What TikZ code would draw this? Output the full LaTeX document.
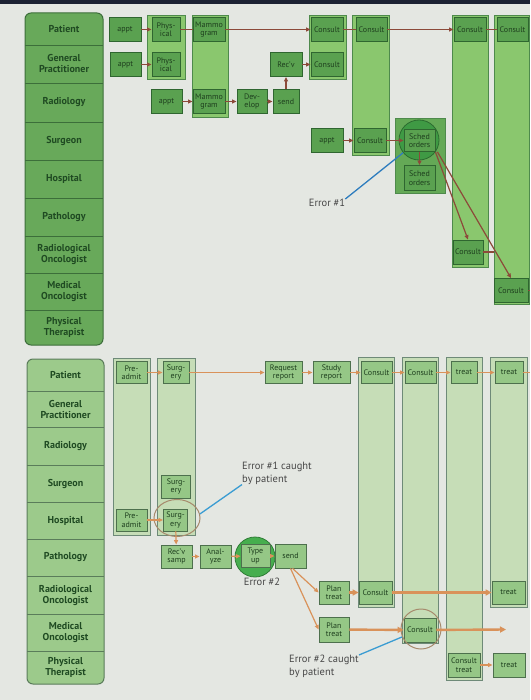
\documentclass[tikz,border=0pt]{standalone}
\usepackage{fontspec}
\setmainfont{PT Sans}
\usetikzlibrary{arrows.meta, shapes.geometric}

\definecolor{cPaper}{HTML}{E4E7E2}
\definecolor{cTopBar}{HTML}{1C2233}
\definecolor{cLaneFillA}{HTML}{68A95A}
\definecolor{cLaneEdgeA}{HTML}{3C6E3A}
\definecolor{cBoxFillA}{HTML}{5AA150}
\definecolor{cBoxEdgeA}{HTML}{2F6630}
\definecolor{cColFillA}{HTML}{8AC76E}
\definecolor{cColEdgeA}{HTML}{4E8A4C}
\definecolor{cRingA}{HTML}{3F9A44}
\definecolor{cRingEdgeA}{HTML}{2C6C30}
\definecolor{cArrowA}{HTML}{8C4A3A}
\definecolor{cLaneText}{HTML}{1F4A22}
\definecolor{cBoxText}{HTML}{1E3F1E}
\definecolor{cLaneFillB}{HTML}{9CCA8B}
\definecolor{cLaneEdgeB}{HTML}{5A7C5A}
\definecolor{cBoxFillB}{HTML}{95C786}
\definecolor{cBoxEdgeB}{HTML}{4D704D}
\definecolor{cColFillB}{HTML}{C6DDB7}
\definecolor{cColEdgeB}{HTML}{6E8A78}
\definecolor{cArrowB}{HTML}{D9925A}
\definecolor{cRingB}{HTML}{A68A6C}
\definecolor{cTypeFill}{HTML}{46AE4E}
\definecolor{cTypeEdge}{HTML}{2F7D36}
\definecolor{cBlueA}{HTML}{2E7DBE}
\definecolor{cBlueB}{HTML}{3A9CD2}
\definecolor{cErrText}{HTML}{474747}

\begin{document}
\begin{tikzpicture}[x=1pt, y=-1pt,
    lanecolA/.style={draw=cLaneEdgeA, fill=cLaneFillA, line width=1pt, rounded corners=6pt},
    lanecolB/.style={draw=cLaneEdgeB, fill=cLaneFillB, line width=1pt, rounded corners=6pt},
    lanesepA/.style={draw=cLaneEdgeA, line width=0.8pt},
    lanesepB/.style={draw=cLaneEdgeB, line width=0.8pt},
    lanelbl/.style={align=center, text=cLaneText, inner sep=0pt,
                    font=\fontsize{10}{11}\selectfont\bfseries},
    colA/.style={draw=cColEdgeA, fill=cColFillA, line width=0.8pt},
    colB/.style={draw=cColEdgeB, fill=cColFillB, line width=0.8pt},
    box/.style={rectangle, draw=cBoxEdgeA, fill=cBoxFillA, line width=0.8pt,
                inner sep=0pt, minimum width=31pt, minimum height=24pt,
                align=center, text=cBoxText, font=\fontsize{8}{8.5}\selectfont},
    boxB/.style={box, draw=cBoxEdgeB, fill=cBoxFillB},
    arrA/.style={-{Triangle[length=4.5pt,width=4pt]}, line width=1.2pt, draw=cArrowA},
    lineA/.style={line width=1.2pt, draw=cArrowA},
    arrB/.style={-{Triangle[length=4.5pt,width=4pt]}, line width=1.2pt, draw=cArrowB},
    thickB/.style={-{Triangle[length=6pt,width=6pt]}, line width=2.4pt, draw=cArrowB},
    errlbl/.style={text=cErrText, align=left, inner sep=0pt,
                   font=\fontsize{10.5}{12.5}\selectfont}
  ]
  \useasboundingbox (0,0) rectangle (530,700);
  \fill[cPaper] (0,0) rectangle (530,700);
  \fill[cTopBar] (0,0) rectangle (530,4);

  % ---------- upper chart ----------
  \draw[lanecolA] (25,13) rectangle (103,345);
  \foreach \y in {45,83,122,160,198,236,273,310}
    \draw[lanesepA] (25,\y) -- (103,\y);
  \foreach [count=\i] \lbl/\y in {Patient/29, {General\\Practitioner}/64,
      Radiology/102.5, Surgeon/141, Hospital/179, Pathology/217,
      {Radiological\\Oncologist}/254.5, {Medical\\Oncologist}/291.5,
      {Physical\\Therapist}/327.5}
    \node[lanelbl] (laneA\i) at (64,\y) {\lbl};

  \draw[colA] (147,15) rectangle (185,79);
  \draw[colA] (192,15) rectangle (228,117);
  \draw[colA] (309,15) rectangle (346,79);
  \draw[colA] (352,15) rectangle (389,155);
  \draw[colA, fill=cBoxFillA!80!cColFillA] (395,118) rectangle (445,193);
  \draw[colA] (452,15) rectangle (488,267);
  \draw[colA] (494,15) rectangle (529,304);
  \node[circle, draw=cRingEdgeA, fill=cRingA, line width=0.8pt,
        minimum size=40pt] (schedring) at (419,140) {};

  \node[box, minimum width=32pt] (appt1) at (125,29.5) {appt};
  \node[box] (appt2) at (125.5,64.5) {appt};
  \node[box, minimum width=28pt] (phys1) at (166,29.5) {Phys-\\ical};
  \node[box, minimum width=28pt] (phys2) at (166,64.5) {Phys-\\ical};
  \node[box, minimum width=32pt] (mammo1) at (209,29.5) {Mammo\\gram};
  \node[box, minimum width=32pt] (mammo2) at (209,101.5) {Mammo\\gram};
  \node[box] (appt3) at (166.5,101.5) {appt};
  \node[box, minimum width=30pt] (develop) at (252,101.5) {Dev-\\elop};
  \node[box, minimum width=26pt] (send1) at (286,101.5) {send};
  \node[box, minimum width=32pt] (recv1) at (286,64.5) {Rec'v};
  \node[box, minimum width=32pt] (cons1p) at (327,29.5) {Consult};
  \node[box, minimum width=32pt] (cons1g) at (327,64.5) {Consult};
  \node[box, minimum width=32pt] (appt4) at (327,140.5) {appt};
  \node[box] (cons2p) at (371.5,29.5) {Consult};
  \node[box, minimum width=32pt] (cons2s) at (370,140.5) {Consult};
  \node[box, minimum height=22pt] (sched1) at (419.5,140.5) {Sched\\orders};
  \node[box, minimum height=25pt] (sched2) at (419.5,178) {Sched\\orders};
  \node[box, minimum width=32pt] (cons3p) at (470,29.5) {Consult};
  \node[box, minimum width=30pt] (cons3r) at (468,252) {Consult};
  \node[box] (cons4p) at (512.5,29.5) {Consult};
  \node[box, minimum width=34pt] (cons4m) at (511,290.5) {Consult};
  \coordinate (outR) at (494,252);
  \coordinate (outM) at (530,290.5);

  \draw[arrA]  (appt1)  -- (phys1);
  \draw[arrA]  (appt2)  -- (phys2);
  \draw[lineA] (phys1)  -- (mammo1);
  \draw[arrA]  (mammo1) -- (cons1p);
  \draw[lineA] (cons1p) -- (cons2p);
  \draw[arrA]  (cons2p) -- (cons3p);
  \draw[lineA] (cons3p) -- (cons4p);
  \draw[arrA]  (appt3)  -- (mammo2);
  \draw[arrA]  (mammo2) -- (develop);
  \draw[arrA]  (develop) -- (send1);
  \draw[arrA]  (send1)  -- (recv1);
  \draw[arrA]  (recv1)  -- (cons1g);
  \draw[arrA]  (appt4)  -- (cons2s);
  \draw[arrA]  (cons2s) -- (sched1);
  \draw[arrA]  (sched1) -- (sched2);
  \draw[arrA]  (sched1.south east) -- (cons3r.north);
  \draw[arrA]  ([xshift=2pt]sched1.south east) -- (cons4m.north);
  \draw[lineA] (cons3r) -- (outR);
  \draw[lineA] (cons4m) -- (outM);

  \node[errlbl] (err1) at (327,203) {Error \#1};
  \draw[cBlueA, line width=1.3pt] (err1.north east) -- (schedring);

  % ---------- lower chart ----------
  \draw[lanecolB] (27,359) rectangle (104,684);
  \foreach \y in {391,427,465,502,539,576,614,651}
    \draw[lanesepB] (27,\y) -- (104,\y);
  \foreach [count=\i] \lbl/\y in {Patient/375, {General\\Practitioner}/409,
      Radiology/446, Surgeon/483.5, Hospital/520.5, Pathology/557.5,
      {Radiological\\Oncologist}/595, {Medical\\Oncologist}/632.5,
      {Physical\\Therapist}/667}
    \node[lanelbl] (laneB\i) at (65.5,\y) {\lbl};

  \draw[colB] (113,358) rectangle (150,535);
  \draw[colB] (157,358) rectangle (195,535);
  \draw[colB] (358,357) rectangle (394,607);
  \draw[colB] (402,357) rectangle (438,643);
  \draw[colB] (446,357) rectangle (482,680);
  \draw[colB] (490,357) rectangle (527,607);
  \node[circle, draw=cTypeEdge, fill=cTypeFill, line width=0.8pt,
        minimum size=40pt] (typering) at (255,557) {};

  \node[boxB, minimum height=22pt] (pre1) at (131.5,372.5) {Pre-\\admit};
  \node[boxB, minimum height=22pt] (pre2) at (131.5,520) {Pre-\\admit};
  \node[boxB, minimum width=26pt, minimum height=22pt] (surg1) at (176,372.5) {Surg-\\ery};
  \node[boxB, minimum width=29pt, minimum height=23pt] (surg2) at (176,486.5) {Surg-\\ery};
  \node[boxB, minimum width=24pt, minimum height=22pt] (surg3) at (175.5,520) {Surg-\\ery};
  \node[boxB, minimum width=37pt, minimum height=22pt] (reqrep) at (283.5,372.5) {Request\\report};
  \node[boxB, minimum width=37pt, minimum height=22pt] (studyrep) at (331.5,372.5) {Study\\report};
  \node[boxB, minimum height=22pt] (consA1) at (376.5,372.5) {Consult};
  \node[boxB, minimum height=22pt] (consB1) at (420.5,372.5) {Consult};
  \node[boxB, minimum width=26pt, minimum height=22pt] (treatC1) at (464,372.5) {treat};
  \node[boxB, minimum width=28pt, minimum height=22pt] (treatD1) at (509,372.5) {treat};
  \node[boxB, minimum height=23pt] (recvsamp) at (176.5,556.5) {Rec'v\\samp};
  \node[boxB, minimum height=23pt] (analyze) at (215.5,556.5) {Anal-\\yze};
  \node[boxB, minimum width=29pt, minimum height=23pt] (typeup) at (255.5,556) {Type\\up};
  \node[boxB] (send2) at (290.5,556) {send};
  \node[boxB, minimum width=30pt, minimum height=23pt] (planR) at (334,592.5) {Plan\\treat};
  \node[boxB, minimum width=30pt, minimum height=25pt] (planM) at (334,629.5) {Plan\\treat};
  \node[boxB, minimum width=33pt, minimum height=23pt] (consA2) at (375.5,592.5) {Consult};
  \node[boxB, minimum width=32pt] (consB2) at (420,630) {Consult};
  \node[boxB, minimum width=33pt, minimum height=23pt] (treatD2) at (508.5,592.5) {treat};
  \node[boxB, minimum width=32pt] (constreat) at (464,665) {Consult\\treat};
  \node[boxB, minimum width=32pt] (treatPT) at (509,665) {treat};
  \node[ellipse, draw=cRingB, line width=1pt, minimum width=46pt,
        minimum height=37pt] (surgring) at (177,518) {};
  \node[circle, draw=cRingB, line width=1pt, minimum size=40pt]
        (consring) at (421,629) {};
  \coordinate (outP) at (530,372.5);
  \coordinate (outMB) at (506,629.5);

  \draw[arrB]   (pre1)     -- (surg1);
  \draw[arrB]   (surg1)    -- (reqrep);
  \draw[arrB]   (reqrep)   -- (studyrep);
  \draw[arrB]   (studyrep) -- (consA1);
  \draw[arrB]   (consA1)   -- (consB1);
  \draw[arrB]   (consB1)   -- (treatC1);
  \draw[arrB]   (treatC1)  -- (treatD1);
  \draw[draw=cArrowB, line width=1.2pt] (treatD1) -- (outP);
  \draw[arrB]   (pre2)     -- (surg3);
  \draw[arrB]   (surg3)    -- (recvsamp);
  \draw[arrB]   (recvsamp) -- (analyze);
  \draw[arrB]   (analyze)  -- (typeup);
  \draw[arrB]   (typeup)   -- (send2);
  \draw[arrB]   ([xshift=2pt]send2.south) -- (planR.west);
  \draw[arrB]   (send2.south) -- (planM.west);
  \draw[thickB] (planR)    -- (consA2);
  \draw[thickB] (consA2)   -- (treatD2);
  \draw[thickB] (planM)    -- (consB2);
  \draw[thickB] (consB2)   -- (outMB);
  \draw[arrB]   (constreat) -- (treatPT);

  \node[errlbl, anchor=north west] (err1c) at (242,462) {Error \#1 caught\\by patient};
  \draw[cBlueB, line width=1.3pt] (err1c.south west) -- (surgring.10);
  \node[errlbl] (err2) at (262,582) {Error \#2};
  \node[errlbl, anchor=north west] (err2c) at (289,655) {Error \#2 caught\\by patient};
  \draw[cBlueB, line width=1.3pt] (err2c.north east) -- (consring);
\end{tikzpicture}
\end{document}
